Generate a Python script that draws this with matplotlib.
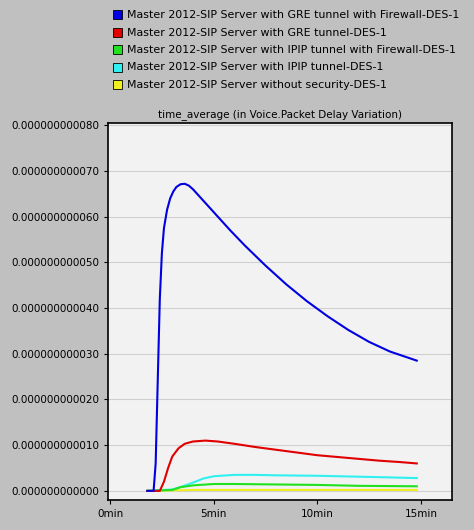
import numpy as np
import matplotlib.pyplot as plt
from matplotlib.patches import Rectangle

# values in units of 1e-11 s, time in minutes
t_blue = [1.8, 2.1, 2.2, 2.3, 2.4, 2.5, 2.6, 2.75, 2.9, 3.05, 3.2, 3.4, 3.6, 3.8, 4.0, 4.3, 4.7, 5.2, 5.8, 6.5, 7.5, 8.5, 9.5, 10.5, 11.5, 12.5, 13.5, 14.8]
v_blue = [0.0, 0.0, 0.6, 2.4, 4.2, 5.2, 5.75, 6.15, 6.4, 6.55, 6.65, 6.71, 6.72, 6.68, 6.6, 6.45, 6.25, 6.0, 5.7, 5.37, 4.93, 4.52, 4.15, 3.82, 3.52, 3.26, 3.05, 2.85]
t_red = [1.8, 2.4, 2.6, 2.8, 3.0, 3.3, 3.6, 4.0, 4.6, 5.2, 6.0, 7.0, 8.0, 9.0, 10.0, 11.0, 12.0, 13.0, 14.0, 14.8]
v_red = [0.0, 0.0, 0.2, 0.5, 0.75, 0.93, 1.03, 1.08, 1.1, 1.08, 1.03, 0.96, 0.9, 0.84, 0.78, 0.74, 0.7, 0.66, 0.63, 0.6]
t_cyan = [1.8, 3.0, 3.5, 4.0, 4.5, 5.0, 6.0, 7.0, 8.0, 10.0, 12.0, 14.8]
v_cyan = [0.0, 0.03, 0.1, 0.18, 0.27, 0.32, 0.35, 0.35, 0.34, 0.33, 0.31, 0.28]
t_green = [1.8, 3.0, 3.4, 4.0, 5.0, 6.0, 8.0, 10.0, 12.0, 14.8]
v_green = [0.0, 0.02, 0.08, 0.12, 0.15, 0.15, 0.14, 0.13, 0.11, 0.1]
t_yellow = [1.8, 3.0, 4.0, 6.0, 10.0, 14.8]
v_yellow = [0.0, 0.01, 0.02, 0.02, 0.02, 0.02]

labels = ["Master 2012-SIP Server with GRE tunnel with Firewall-DES-1",
          "Master 2012-SIP Server with GRE tunnel-DES-1",
          "Master 2012-SIP Server with IPIP tunnel with Firewall-DES-1",
          "Master 2012-SIP Server with IPIP tunnel-DES-1",
          "Master 2012-SIP Server without security-DES-1"]
colors = ["#0000e0", "#e00000", "#20e020", "#30f0f0", "#f0f020"]
series = [(t_blue, v_blue), (t_red, v_red), (t_green, v_green), (t_cyan, v_cyan), (t_yellow, v_yellow)]

fig = plt.figure(figsize=(4.74, 5.30), dpi=100, facecolor="#c0c0c0")
ax = fig.add_axes([108/474, 30/530, 344/474, 377/530])
ax.set_facecolor("#f2f2f2")
for (t, v), c in reversed(list(zip(series, colors))):
    ax.plot(t, v, color=c, lw=1.5)
ax.set_xlim(-0.1, 16.5)
ax.set_ylim(-0.2, 8.05)
ax.set_xticks([0, 5, 10, 15])
ax.set_xticklabels(["0min", "5min", "10min", "15min"])
yt = np.arange(0, 9)
ax.set_yticks(yt)
ax.set_yticklabels(["%.12f" % (y * 1e-11) for y in yt])
ax.grid(axis="y", color="#d0d0d0", lw=0.8)
ax.tick_params(labelsize=7.5, length=3)
for s in ax.spines.values():
    s.set_linewidth(1.2)
ax.set_title("time_average (in Voice.Packet Delay Variation)", fontsize=7.5, pad=4)

for i, (lab, c) in enumerate(zip(labels, colors)):
    y = 1 - (15 + i * 17.5) / 530
    fig.patches.append(Rectangle((113/474, y - 4/530), 9/474, 9/530, transform=fig.transFigure,
                                 facecolor=c, edgecolor="black", lw=0.6))
    fig.text(127/474, y, lab, fontsize=7.9, va="center")

fig.savefig("out.png", facecolor=fig.get_facecolor())
